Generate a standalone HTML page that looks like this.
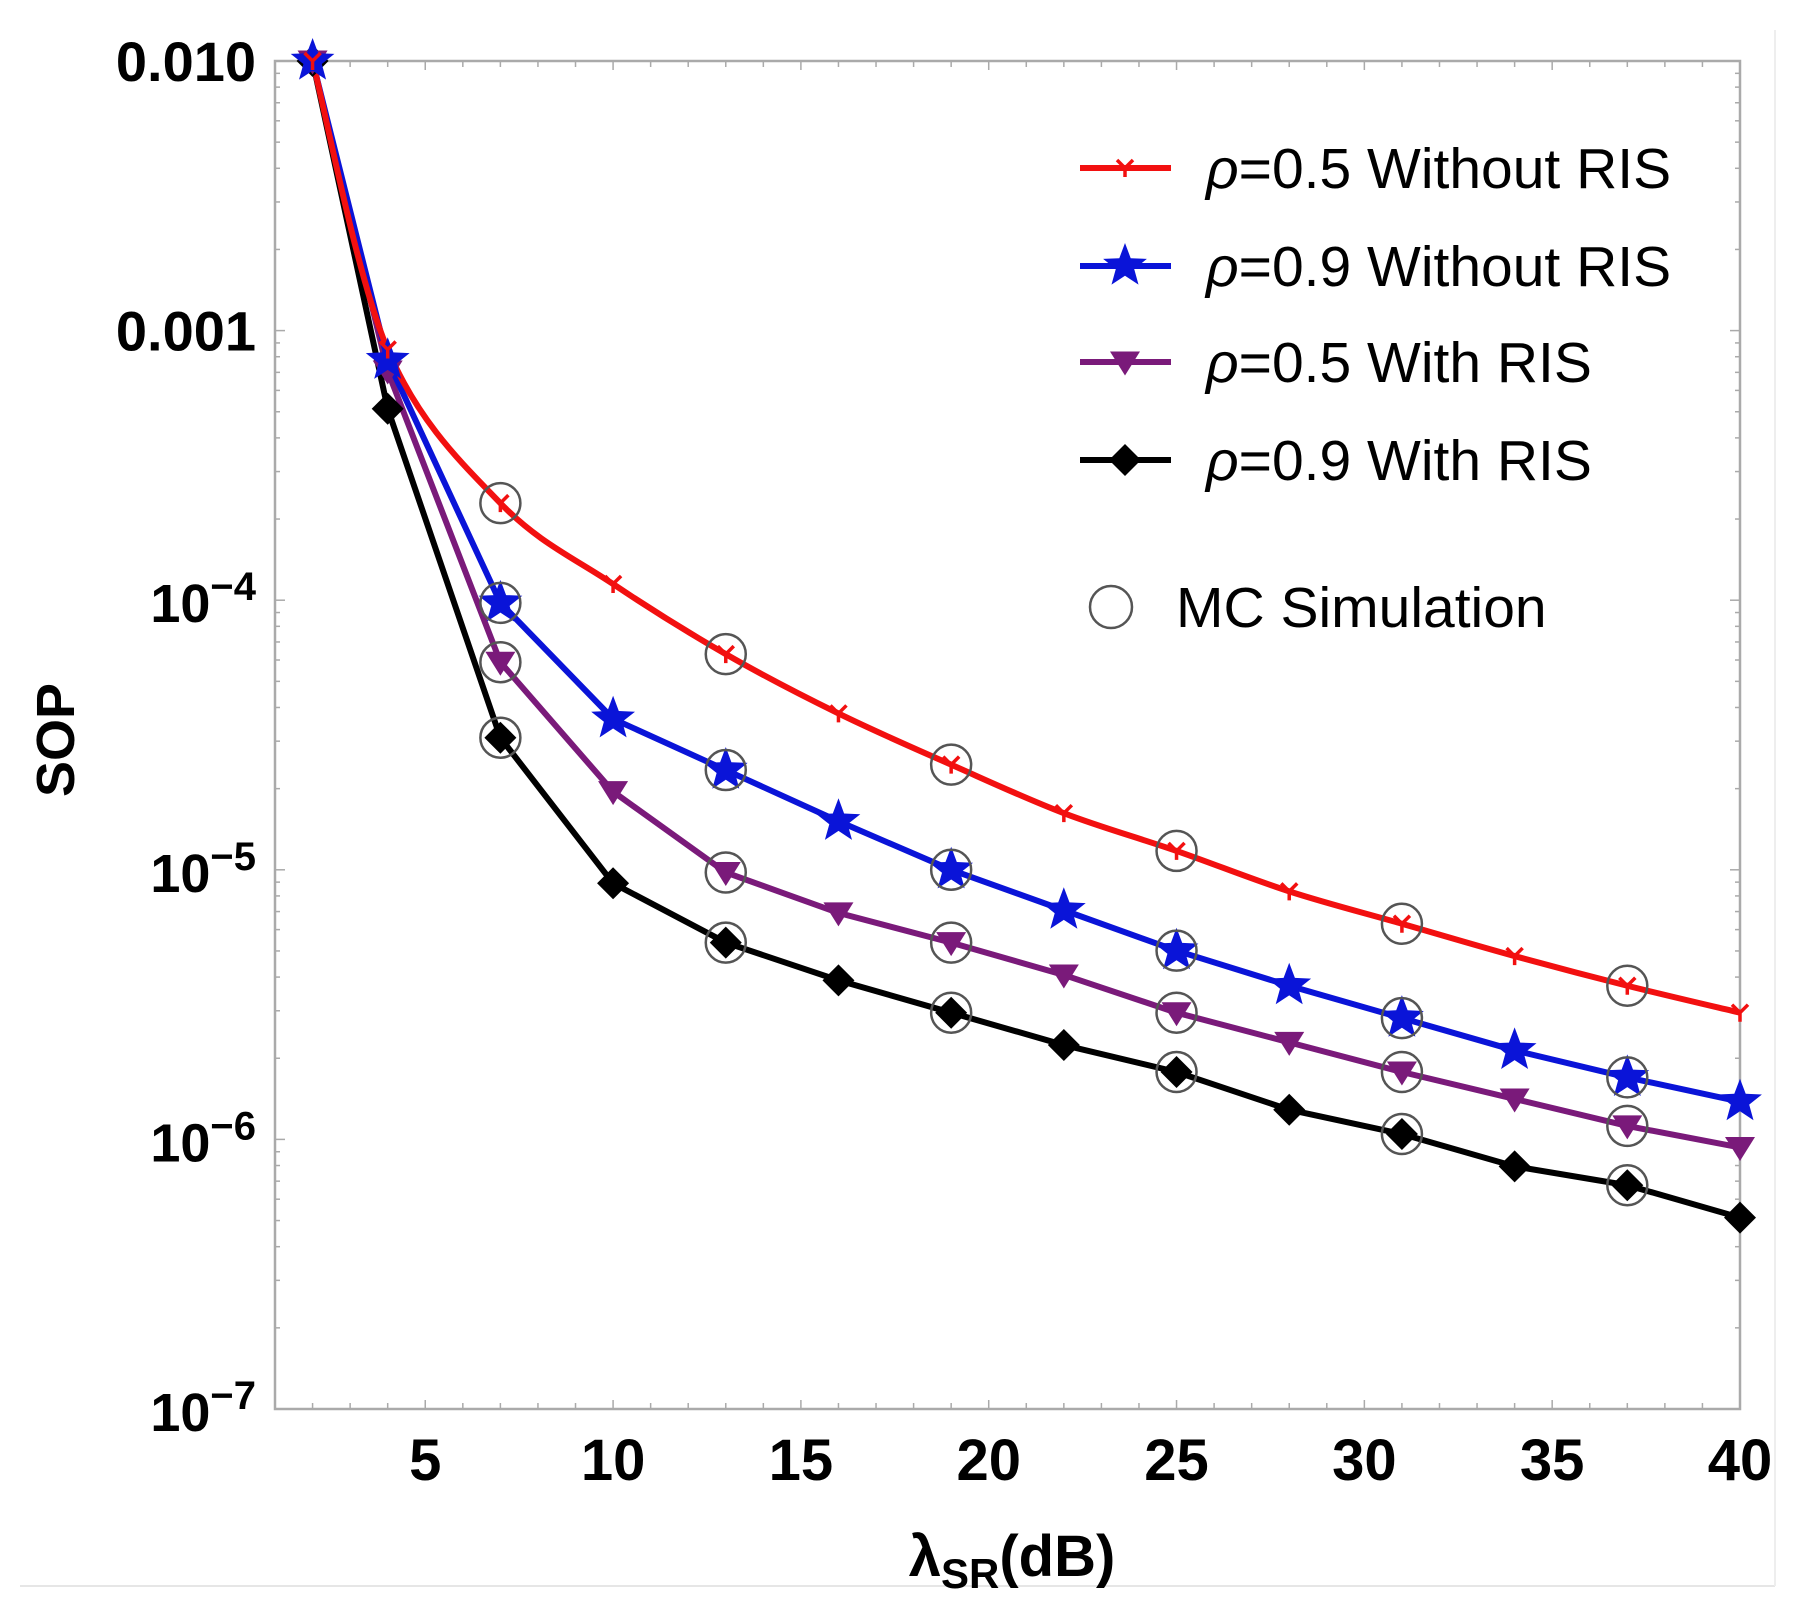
<!DOCTYPE html>
<html><head><meta charset="utf-8"><style>
html,body{margin:0;padding:0;background:#fff;}
svg{display:block;}
text{font-family:"Liberation Sans",Arial,sans-serif;}
</style></head><body>
<svg id="s" width="1805" height="1624" viewBox="0 0 1805 1624" xmlns="http://www.w3.org/2000/svg"></svg>
<script>
const s=document.getElementById('s');
const L=275,R=1740,T=61,B=1409;
const X=x=>L+(x-1)*(R-L)/39;
const Y=l=>T+(-2-l)*(B-T)/5;
let h='';
h+=`<line x1="20" y1="1586" x2="1775" y2="1586" stroke="#e6e6e6" stroke-width="2"/>`;
h+=`<line x1="1775" y1="30" x2="1775" y2="1586" stroke="#eee" stroke-width="2"/>`;
h+=`<rect x="${L}" y="${T}" width="${R-L}" height="${B-T}" fill="none" stroke="#aaa" stroke-width="2.5"/>`;
for(let x=2;x<40;x++){const len=x%5==0?9:6;const px=X(x);
h+=`<line x1="${px}" y1="${B}" x2="${px}" y2="${B-len}" stroke="#aaa" stroke-width="1.5"/>`;
h+=`<line x1="${px}" y1="${T}" x2="${px}" y2="${T+len}" stroke="#aaa" stroke-width="1.5"/>`;}
for(let d=-7;d<-2;d++){for(let m=1;m<10;m++){const l=d+Math.log10(m);const py=Y(l);const len=m==1?10:5;
h+=`<line x1="${L}" y1="${py}" x2="${L+len}" y2="${py}" stroke="#aaa" stroke-width="1.5"/>`;
h+=`<line x1="${R}" y1="${py}" x2="${R-len}" y2="${py}" stroke="#aaa" stroke-width="1.5"/>`;}}
[5,10,15,20,25,30,35,40].forEach(x=>{h+=`<text x="${X(x)}" y="1480" font-size="58" font-weight="bold" text-anchor="middle">${x}</text>`;});
h+=`<text x="256" y="${Y(-2)+20}" font-size="56" font-weight="bold" text-anchor="end">0.010</text>`;
h+=`<text x="256" y="${Y(-3)+20}" font-size="56" font-weight="bold" text-anchor="end">0.001</text>`;
[-4,-5,-6,-7].forEach(e=>{h+=`<text x="256" y="${Y(e)+22}" font-size="54" font-weight="bold" text-anchor="end">10<tspan dy="-22" font-size="40">−${-e}</tspan></text>`;});
h+=`<text transform="translate(74,740) rotate(-90)" font-size="54" font-weight="bold" text-anchor="middle">SOP</text>`;
h+=`<text x="1012" y="1576" font-size="58" font-weight="bold" text-anchor="middle">λ<tspan font-size="42" dy="12">SR</tspan><tspan dy="-12">(dB)</tspan></text>`;
const xs=[2,4,7,10,13,16,19,22,25,28,31,34,37,40];
const red=[-2,-3.07,-3.64,-3.94,-4.20,-4.42,-4.61,-4.79,-4.93,-5.08,-5.20,-5.32,-5.43,-5.53];
const blue=[-2,-3.11,-4.01,-4.44,-4.63,-4.82,-5.00,-5.15,-5.30,-5.43,-5.55,-5.67,-5.77,-5.86];
const pur=[-2,-3.15,-4.23,-4.71,-5.01,-5.16,-5.27,-5.39,-5.53,-5.64,-5.75,-5.85,-5.95,-6.03];
const blk=[-2,-3.29,-4.51,-5.05,-5.27,-5.41,-5.53,-5.65,-5.75,-5.89,-5.98,-6.10,-6.17,-6.29];
function smooth(ys){const p=xs.map((x,i)=>[X(x),Y(ys[i])]);let d=`M${p[0][0]},${p[0][1]}`;
for(let i=0;i<p.length-1;i++){const p0=p[Math.max(i-1,0)],p1=p[i],p2=p[i+1],p3=p[Math.min(i+2,p.length-1)];
d+=` C${p1[0]+(p2[0]-p0[0])/6},${p1[1]+(p2[1]-p0[1])/6} ${p2[0]-(p3[0]-p1[0])/6},${p2[1]-(p3[1]-p1[1])/6} ${p2[0]},${p2[1]}`;}return d;}
function poly(ys){return 'M'+xs.map((x,i)=>X(x)+','+Y(ys[i])).join(' L');}
function star(cx,cy,r,c){let p=[];for(let i=0;i<10;i++){const a=-Math.PI/2+i*Math.PI/5;const rr=i%2?r*0.42:r;p.push((cx+rr*Math.cos(a)).toFixed(1)+','+(cy+rr*Math.sin(a)).toFixed(1));}return `<polygon points="${p.join(' ')}" fill="${c}"/>`;}
function tri(cx,cy,r,c){return `<polygon points="${cx-r},${cy-r*0.7} ${cx+r},${cy-r*0.7} ${cx},${cy+r*0.9}" fill="${c}"/>`;}
function dia(cx,cy,r,c){return `<polygon points="${cx},${cy-r} ${cx+r},${cy} ${cx},${cy+r} ${cx-r},${cy}" fill="${c}"/>`;}
function tk(cx,cy,c){return `<path d="M${cx-8},${cy-8} L${cx},${cy} L${cx+8},${cy-8} M${cx},${cy} L${cx},${cy+9}" stroke="${c}" stroke-width="3.5" fill="none"/>`;}
h+=`<path d="${poly(blk)}" stroke="#000" stroke-width="6" fill="none"/>`;
h+=`<path d="${poly(pur)}" stroke="#7a1a7a" stroke-width="6" fill="none"/>`;
h+=`<path d="${poly(blue)}" stroke="#0a14d8" stroke-width="6" fill="none"/>`;
h+=`<path d="${smooth(red)}" stroke="#f21010" stroke-width="6" fill="none"/>`;
xs.forEach((x,i)=>{
h+=dia(X(x),Y(blk[i]),16,'#000');
h+=tri(X(x),Y(pur[i]),15,'#7a1a7a');
h+=star(X(x),Y(blue[i]),23,'#0a14d8');
h+=tk(X(x),Y(red[i]),'#f21010');});
[7,13,19,25,31,37].forEach(x=>{const i=xs.indexOf(x);[red,blue,pur,blk].forEach(a=>{h+=`<circle cx="${X(x)}" cy="${Y(a[i])}" r="20" fill="none" stroke="#555" stroke-width="2.5"/>`;});});
const rows=[[168,'#f21010','ρ=0.5 Without RIS','tk'],[266,'#0a14d8','ρ=0.9 Without RIS','star'],[362,'#7a1a7a','ρ=0.5 With RIS','tri'],[460,'#000','ρ=0.9 With RIS','dia']];
rows.forEach(([y,c,t,m])=>{h+=`<line x1="1080" y1="${y}" x2="1171" y2="${y}" stroke="${c}" stroke-width="6"/>`;
const cx=1125;h+=m=='tk'?tk(cx,y,c):m=='star'?star(cx,y,23,c):m=='tri'?tri(cx,y,15,c):dia(cx,y,16,c);
h+=`<text x="1206" y="${y+20}" font-size="57"><tspan font-style="italic">ρ</tspan>${t.slice(1)}</text>`;});
h+=`<circle cx="1111" cy="607" r="21" fill="none" stroke="#555" stroke-width="2.5"/>`;
h+=`<text x="1176" y="627" font-size="57">MC Simulation</text>`;
s.innerHTML=h;
</script>
</body></html>
